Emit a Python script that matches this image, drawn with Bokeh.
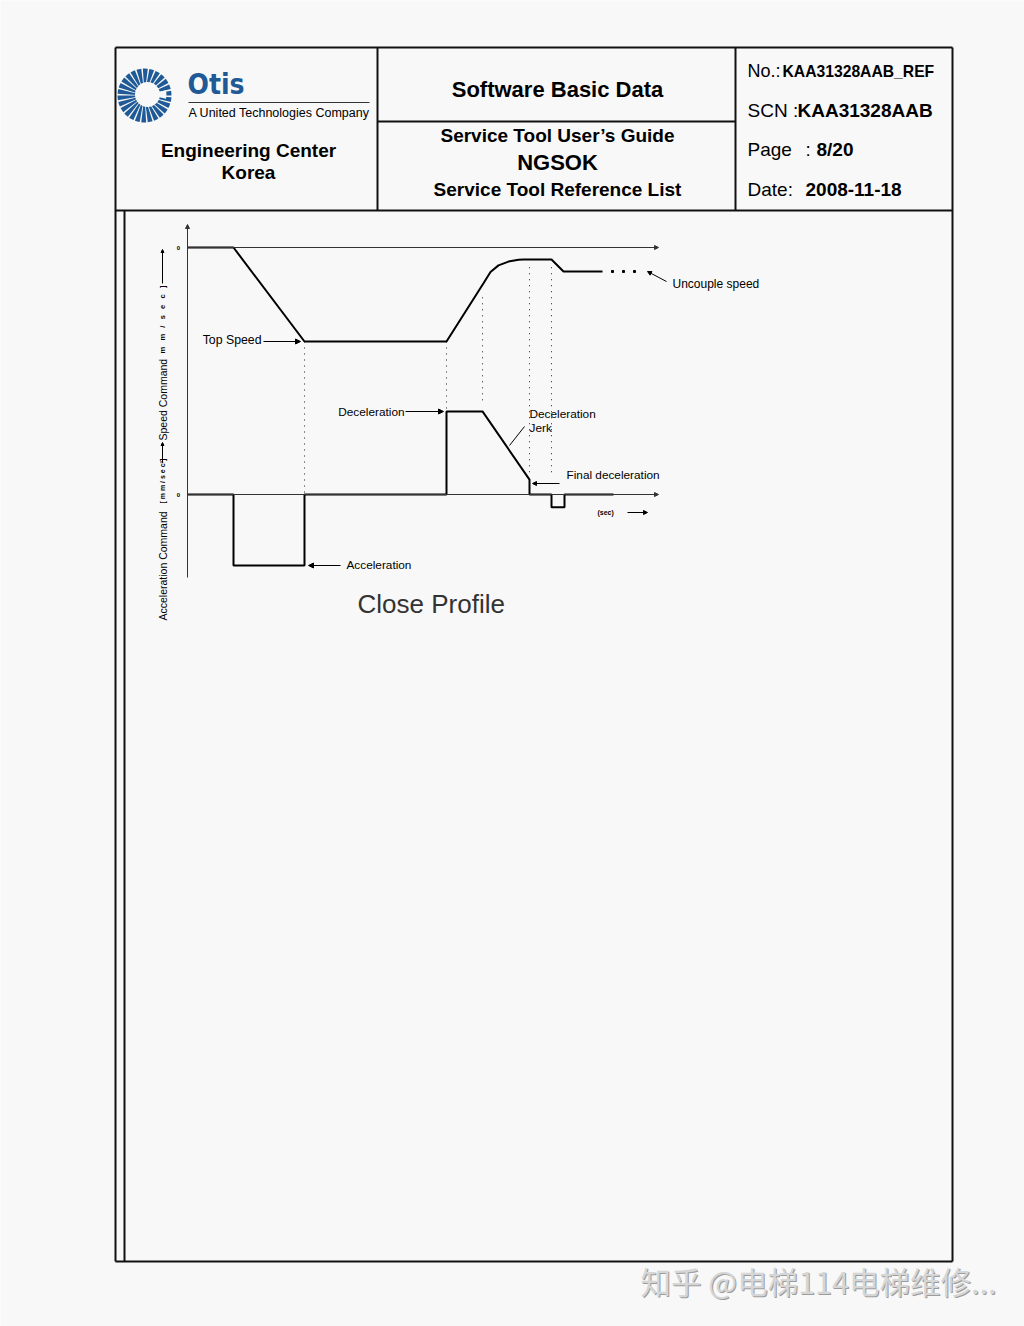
import numpy as np
from bokeh.plotting import figure
from bokeh.models import Range1d, Arrow, NormalHead
from bokeh.core.properties import value
from bokeh.embed import file_html
from bokeh.resources import INLINE

# ---------------- chart data (Close Profile) ----------------
# time in arbitrary units, speed normalised to top speed, acceleration normalised to acceleration
speed_t = [0, 4.6, 11.7, 25.9, 29.6, 30.3, 31.1, 32.1, 33.1, 33.6, 36.4, 37.6, 41.5]
speed_v = [0, 0, -1.0, -1.0, -0.38, -0.26, -0.19, -0.15, -0.13, -0.128, -0.128, -0.255, -0.255]
uncouple_t = [42.5, 43.6, 44.7]
uncouple_v = [-0.255, -0.255, -0.255]
accel_t = [0, 4.6, 4.6, 11.7, 11.7, 25.9, 25.9, 29.5, 34.2, 34.2, 36.4, 36.4, 37.7, 37.7, 42.6]
accel_v = [0, 0, -1.0, -1.0, 0, 0, 1.17, 1.17, 0.21, 0, 0, -0.18, -0.18, 0, 0]
# dotted markers: time, top (speed units), bottom (accel units)
mark_t = [11.7, 25.9, 29.5, 34.2, 36.4]
mark_top_spd = [-1.0, -1.0, -0.53, -0.21, -0.21]
mark_bot_acc = [0.0, 1.17, 1.32, 0.29, 0.29]
axis_end_t = 47.1
zero_labels = ["0", "0"]

# ---------------- page layout (pixel space) ----------------
W, H = 1024, 1326
X0, PXT = 187, 10.0      # chart time origin / px per unit
S0, PXS = 247, 94.0      # speed zero line / px per unit
A0, PXA = 494, 71.0      # accel zero line / px per unit

p = figure(width=W, height=H, x_range=Range1d(0, W), y_range=Range1d(H, 0),
           output_backend="svg", toolbar_location=None, min_border=0,
           background_fill_color="#f8f8f8", border_fill_color="#f8f8f8",
           outline_line_color=None)
p.xaxis.visible = False
p.yaxis.visible = False
p.grid.visible = False

p.extra_x_ranges = {"t": Range1d((0 - X0) / PXT, (W - X0) / PXT)}
p.extra_y_ranges = {"spd": Range1d((S0 - H) / PXS, (S0 - 0) / PXS),
                    "acc": Range1d((A0 - H) / PXA, (A0 - 0) / PXA)}

FONT = value("Liberation Sans")
NB = "\u00a0"


def txt(x, y, s, size, bold=False, align="left", color="#000000", font=FONT, angle=0.0):
    p.text(x=[x], y=[y], text=[s], text_font=font, text_font_size=f"{size}px",
           text_font_style="bold" if bold else "normal", text_align=align,
           text_baseline="middle", text_color=color, angle=angle)


def arrow(x0, y0, x1, y1, size=5, color="#000000", **kw):
    p.add_layout(Arrow(end=NormalHead(size=size, fill_color=color, line_color=color),
                       x_start=x0, y_start=y0, x_end=x1, y_end=y1,
                       line_color=color, line_width=1, **kw))


# ---------------- frame ----------------
fx0 = [115, 115, 952, 115, 124, 115, 377, 735, 377]
fy0 = [47, 1261, 47, 47, 210, 210, 47, 47, 121]
fx1 = [952, 952, 952, 115, 124, 952, 377, 735, 735]
fy1 = [47, 1261, 1261, 1261, 1261, 210, 210, 210, 121]
p.segment(fx0, fy0, fx1, fy1, line_color="#111111", line_width=2)

# ---------------- logo ----------------
n = 26
ang = np.linspace(0, 2 * np.pi, n, endpoint=False)
p.annular_wedge(x=144, y=95, inner_radius=0, outer_radius=27,
                start_angle=ang, end_angle=ang + 2 * np.pi / n * 0.75,
                fill_color="#1f5a96", line_color=None)
p.circle(x=[147], y=[94], radius=12.5, fill_color="#f8f8f8", line_color=None)
p.wedge(x=[147], y=[94], radius=19, start_angle=-0.22, end_angle=0.22,
        fill_color="#f8f8f8", line_color=None)
p.segment([188], [102], [369], [102], line_color="#333333", line_width=1)
txt(187, 84, "Otis", 28, bold=True, color="#1f5a96", font=value("DejaVu Sans Condensed"))
txt(188, 112, "A United Technologies Company", 12.5)
txt(248, 150, "Engineering Center", 19, bold=True, align="center")
txt(248, 172, "Korea", 19, bold=True, align="center")

# ---------------- header middle ----------------
txt(557, 89, "Software Basic Data", 22, bold=True, align="center")
txt(557, 135, "Service Tool User\u2019s Guide", 19, bold=True, align="center")
txt(557, 162, "NGSOK", 22, bold=True, align="center")
txt(557, 189, "Service Tool Reference List", 19, bold=True, align="center")

# ---------------- header right ----------------
txt(747, 70, "No.:", 18)
txt(782, 71, "KAA31328AAB_REF", 15.7, bold=True)
txt(747, 110, "SCN :", 19)
txt(797, 110, "KAA31328AAB", 19, bold=True)
txt(747, 149, "Page", 19)
txt(805, 149, ":", 19)
txt(816, 149, "8/20", 19, bold=True)
txt(747, 189, "Date:", 19)
txt(805, 189, "2008-11-18", 19, bold=True)

# ---------------- chart axes ----------------
arrow(X0, 577, X0, 224, size=4, color="#333333")
arrow(0, 0, axis_end_t, 0, size=4, color="#333333", x_range_name="t", y_range_name="spd")
arrow(0, 0, axis_end_t, 0, size=4, color="#333333", x_range_name="t", y_range_name="acc")
txt(178, S0, zero_labels[0], 6, bold=True, align="center")
txt(178, A0, zero_labels[1], 6, bold=True, align="center")

# dotted markers
p.segment(x0=mark_t, y0=[S0 - v * PXS for v in mark_top_spd], x1=mark_t,
          y1=[A0 - v * PXA for v in mark_bot_acc], x_range_name="t",
          line_color="#222222", line_width=1, line_dash="1 5")

# profiles
p.line(speed_t, speed_v, x_range_name="t", y_range_name="spd", line_color="#000000", line_width=2)
p.scatter(uncouple_t, uncouple_v, x_range_name="t", y_range_name="spd", marker="square",
          size=2, color="#000000")
p.line(accel_t, accel_v, x_range_name="t", y_range_name="acc", line_color="#000000", line_width=2)

# ---------------- annotations ----------------
ANN = 11.8
txt(261, 339, "Top Speed", 12.3, align="right")
arrow(263, 341, 300, 341, size=5)
txt(404, 411, "Deceleration", ANN, align="right")
arrow(405, 411, 443, 411, size=5)
txt(529, 413, "Deceleration", ANN)
txt(529, 427, "Jerk", ANN)
p.segment([524], [426], [509], [445], line_color="#000000", line_width=1)
txt(566, 474, "Final deceleration", ANN)
arrow(559, 483, 532, 483, size=4)
txt(672, 283, "Uncouple speed", 12)
arrow(666, 281, 647, 271, size=4)
txt(346, 564, "Acceleration", ANN)
arrow(340, 565, 308, 565, size=5)
txt(597, 512, "(sec)", 7, bold=True)
arrow(627, 512, 647, 512, size=4)
txt(357, 603, "Close Profile", 26, color="#333333")

# rotated y-axis label
acc_units = NB.join(["[", "m", "m", "/", "s", "e", "c\u00b2]"])
spd_units = (NB * 3).join(["m", "m", "/", "s", "e", "c", "]"])
txt(162, 620, "Acceleration Command", 10.5, angle=np.pi / 2)
txt(162, 503, acc_units, 7, bold=True, angle=np.pi / 2)
arrow(162, 462, 162, 442, size=3)
txt(162, 440, "Speed Command", 10.5, angle=np.pi / 2)
txt(162, 353, spd_units, 7.5, bold=True, angle=np.pi / 2)
arrow(162, 283, 162, 249, size=3)

# ---------------- watermark ----------------
wm = "\u77e5\u4e4e @\u7535\u68af114\u7535\u68af\u7ef4\u4fee..."
txt(641, 1281, wm, 30.5, color="#9c9c9c", font=value("Noto Sans CJK SC"))
txt(640, 1280, wm, 30.5, color="#d6d6d6", font=value("Noto Sans CJK SC"))

open("out.html", "w").write(file_html(p, INLINE))
